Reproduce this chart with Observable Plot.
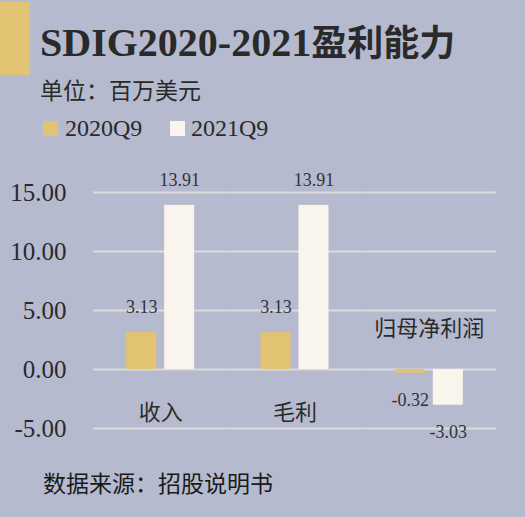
<!DOCTYPE html>
<html>
<head>
<meta charset="utf-8">
<script src="https://cdn.jsdelivr.net/npm/d3@7"></script>
<script src="https://cdn.jsdelivr.net/npm/@observablehq/plot@0.6"></script>
<style>
  html, body { margin: 0; padding: 0; background: #b5bacf; }
  #chart { position: relative; width: 525px; height: 517px; overflow: hidden; background: #b5bacf; color: #2a2a2a; }
  .abs { position: absolute; white-space: nowrap; }
  #bar { left: 0; top: 2px; width: 30px; height: 73px; background: #e2c372; }
  #title { left: 40px; top: 20px; font: bold 40px/40px "Liberation Serif", "Noto Sans CJK SC", serif; color: #2a2a2a; }
  #title .cjk { font-size: 36px; font-family: "Noto Sans CJK SC", sans-serif; }
  #subtitle { left: 40px; top: 78px; font: 23px/23px "Noto Sans CJK SC", sans-serif; }
  .sw { width: 15px; height: 15px; top: 121px; }
  .lt { top: 116px; font: 24px/24px "Liberation Serif", serif; }
  #caption { left: 43px; top: 471px; font: 23px/23px "Noto Sans CJK SC", sans-serif; color: #1a1a1a; }
  #plot { position: absolute; left: 0; top: 160px; }
</style>
</head>
<body>
<div id="chart">
  <div class="abs" id="bar"></div>
  <div class="abs" id="title">SDIG2020-2021<span class="cjk">盈利能力</span></div>
  <div class="abs" id="subtitle">单位：百万美元</div>
  <div id="legend"></div>
  <div id="plot"></div>
  <div class="abs" id="caption">数据来源：招股说明书</div>
</div>
<script>
const categories = ["收入", "毛利", "归母净利润"];
const series = ["2020Q9", "2021Q9"];
const values2020 = [3.13, 3.13, -0.32];
const values2021 = [13.91, 13.91, -3.03];
const yTicks = [-5, 0, 5, 10, 15];
const colors = ["#e2c372", "#f9f5ec"];

// legend
const legend = document.getElementById("legend");
const legendX = [[43, 65], [170, 191]];
series.forEach((s, i) => {
  const sw = document.createElement("div");
  sw.className = "abs sw";
  sw.style.left = legendX[i][0] + "px";
  sw.style.background = colors[i];
  legend.appendChild(sw);
  const t = document.createElement("div");
  t.className = "abs lt";
  t.style.left = legendX[i][1] + "px";
  t.textContent = s;
  legend.appendChild(t);
});

const data = categories.flatMap((c, i) => [
  {cat: c, s: series[0], v: values2020[i]},
  {cat: c, s: series[1], v: values2021[i]}
]);
const catData = categories.map((c, i) => ({cat: c, min: Math.min(values2020[i], values2021[i])}));

const plot = Plot.plot({
  width: 525,
  height: 290,
  marginTop: 32,
  marginBottom: 22,
  marginLeft: 93,
  marginRight: 29,
  style: {background: "transparent", overflow: "visible", fontFamily: "'Liberation Serif', serif", color: "#2a2a2a"},
  fx: {domain: categories, padding: 0, axis: null, round: false},
  x: {domain: series, paddingInner: 0.21, paddingOuter: 0.873, axis: null, round: false},
  y: {domain: [-5, 15], label: null},
  color: {domain: series, range: colors},
  marks: [
    Plot.ruleY(yTicks, {stroke: "#dcdcdc", strokeWidth: 2}),
    Plot.axisY(yTicks, {tickSize: 0, tickPadding: 27, fontSize: 25, tickFormat: d => d.toFixed(2), fill: "#2a2a2a", label: null}),
    Plot.barY(data, {fx: "cat", x: "s", y: "v", fill: "s"}),
    Plot.text(data.filter(d => d.v >= 0), {fx: "cat", x: "s", y: "v", text: d => d.v.toFixed(2), dy: -25, fontSize: 18, fill: "#333"}),
    Plot.text(data.filter(d => d.v < 0), {fx: "cat", x: "s", y: "v", text: d => d.v.toFixed(2), dy: 27, fontSize: 18, fill: "#333"}),
    Plot.text(catData.filter(d => d.min >= 0), {fx: "cat", y: () => 0, text: "cat", dy: 43, fontSize: 22, fill: "#2a2a2a", fontFamily: "'Noto Sans CJK SC', sans-serif"}),
    Plot.text(catData.filter(d => d.min < 0), {fx: "cat", y: () => 0, text: "cat", dy: -41, fontSize: 22, fill: "#2a2a2a", fontFamily: "'Noto Sans CJK SC', sans-serif"})
  ]
});
document.getElementById("plot").appendChild(plot);
</script>
</body>
</html>
